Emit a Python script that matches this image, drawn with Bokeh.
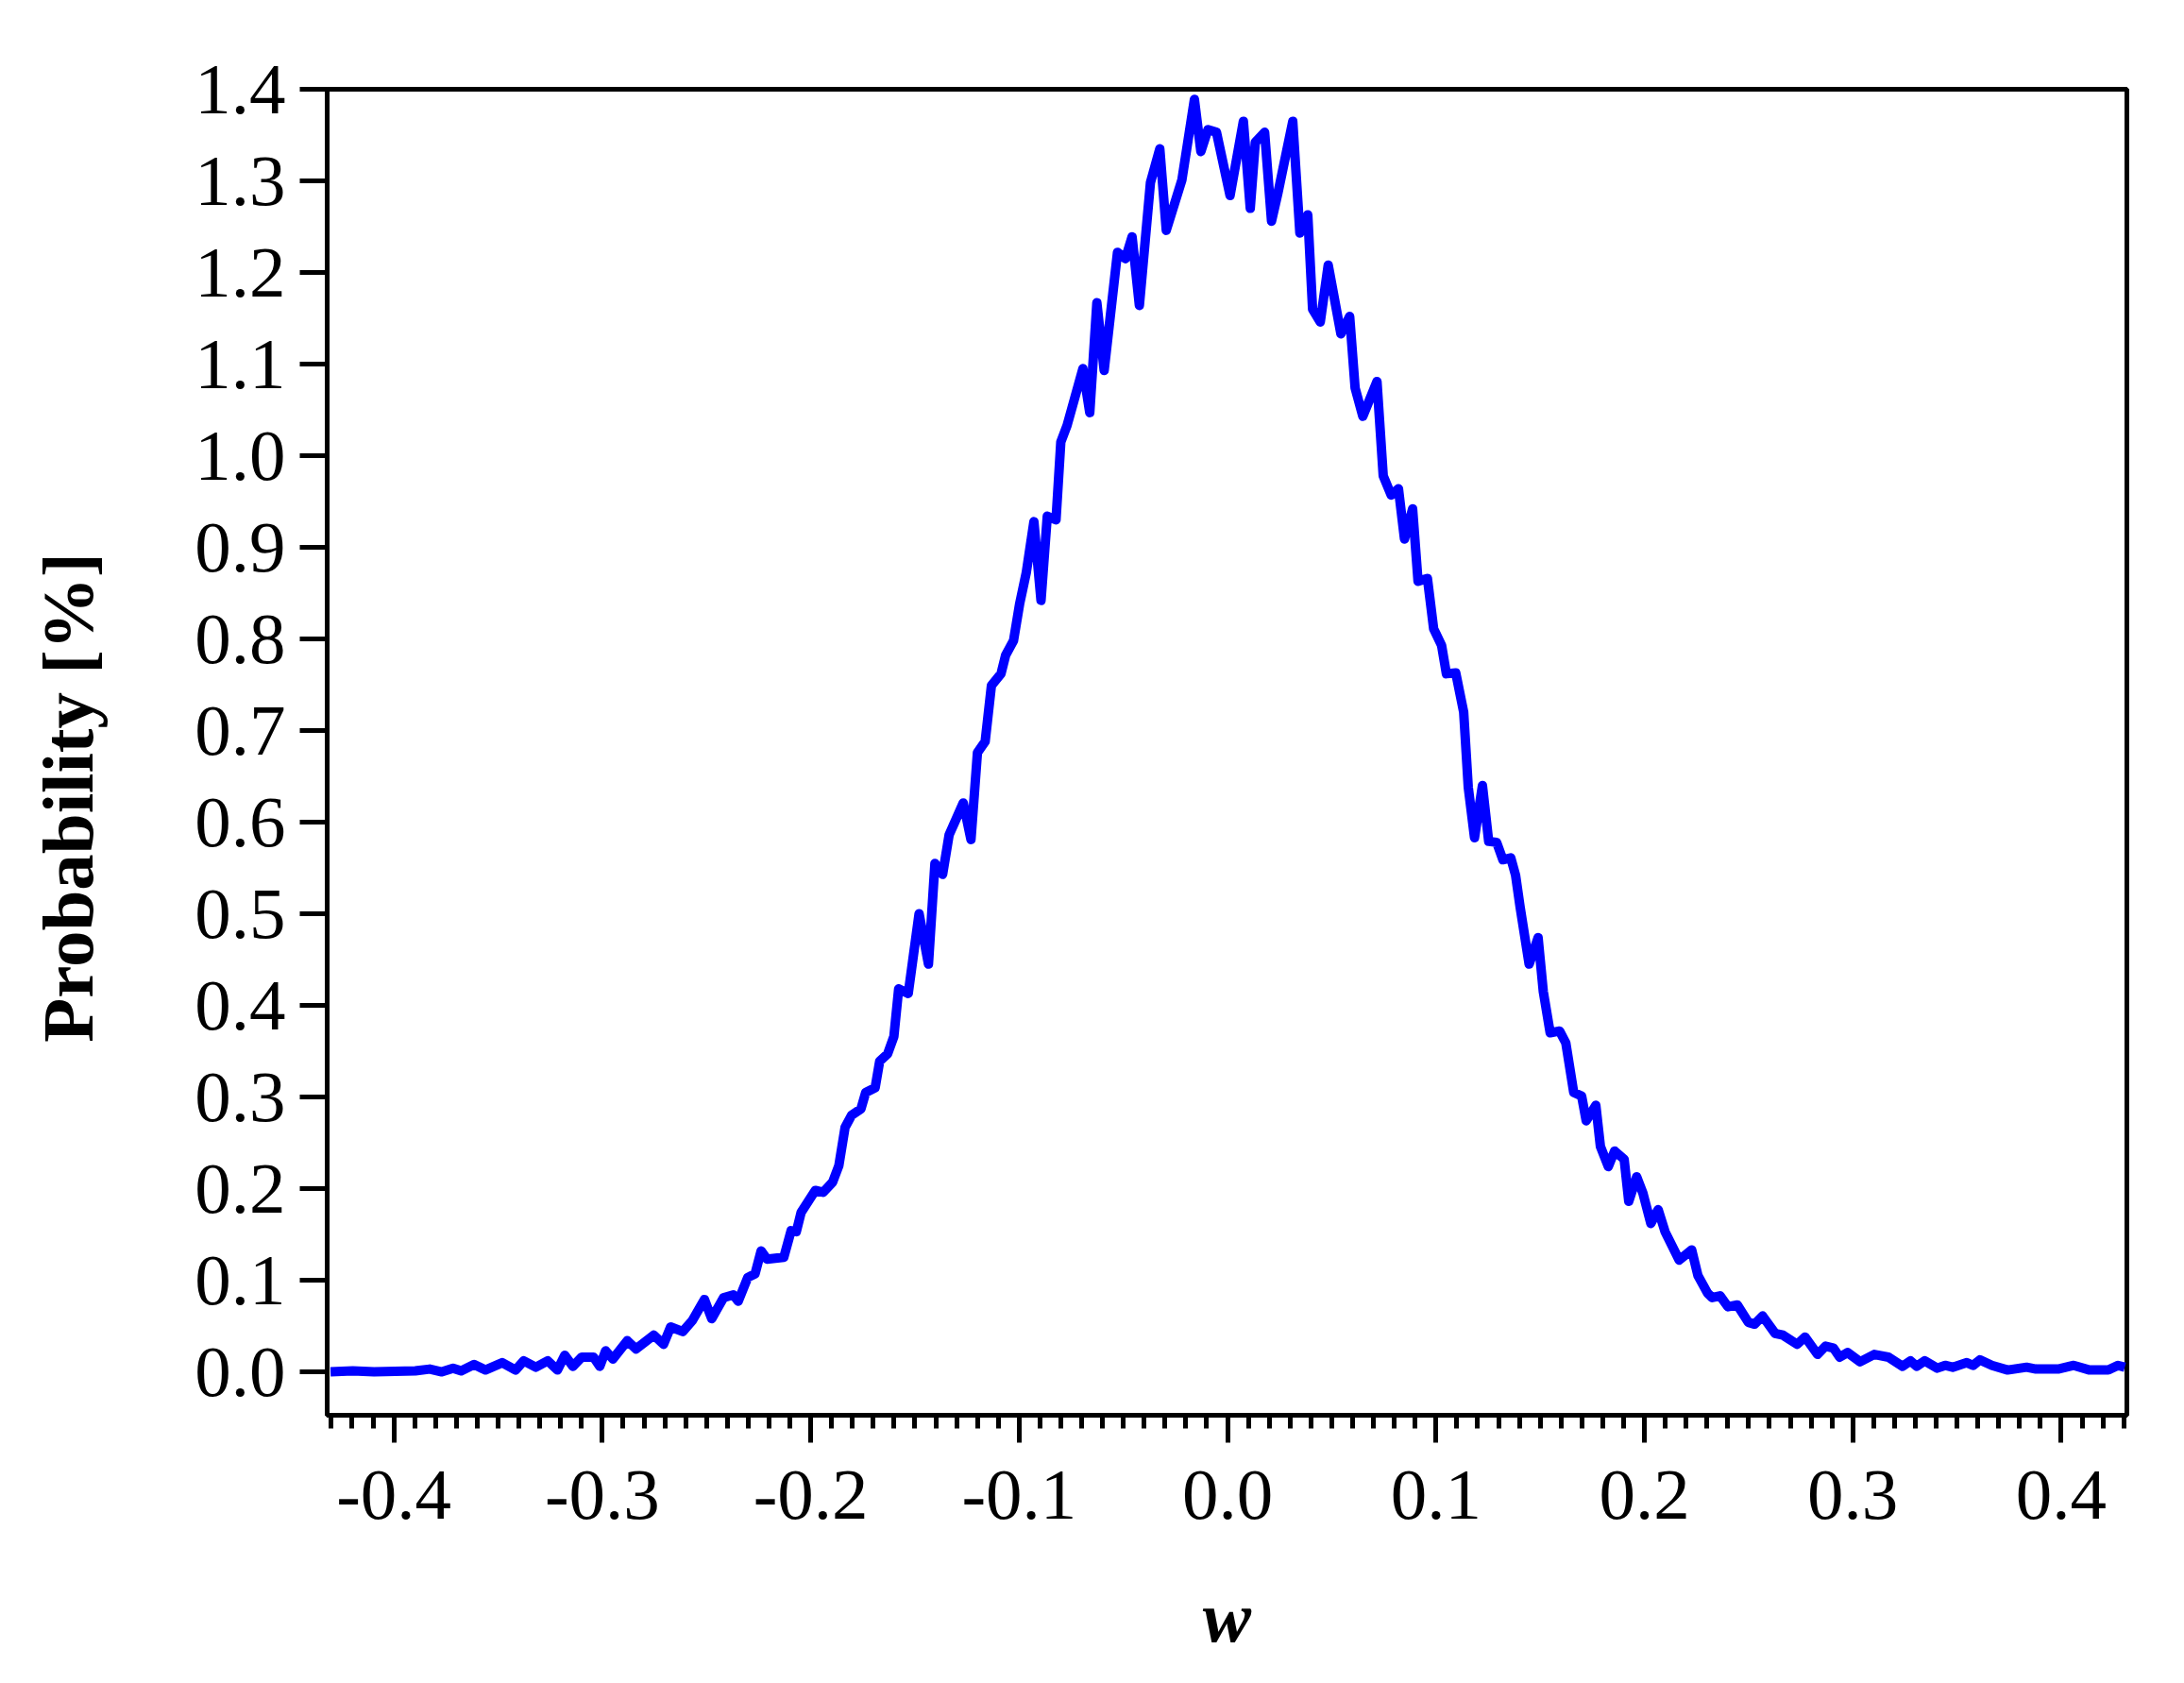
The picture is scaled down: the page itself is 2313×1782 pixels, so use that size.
import numpy as np
from bokeh.plotting import figure
from bokeh.models import Range1d, FixedTicker, NumeralTickFormatter
from bokeh.embed import file_html
from bokeh.resources import INLINE

# ---- data ----
w = [-0.4304, -0.4197, -0.4095, -0.3897, -0.3828, -0.3770, -0.3716, -0.3677, -0.3615, -0.3561,
     -0.3480, -0.3416, -0.3377, -0.3319, -0.3262, -0.3215, -0.3180, -0.3141, -0.3099, -0.3042,
     -0.3012, -0.2984, -0.2949, -0.2880, -0.2838, -0.2753, -0.2706, -0.2672, -0.2614, -0.2568,
     -0.2510, -0.2475, -0.2418, -0.2371, -0.2348, -0.2302, -0.2267, -0.2238, -0.2210, -0.2129,
     -0.2094, -0.2069, -0.2046, -0.1978, -0.1940, -0.1895, -0.1865, -0.1835, -0.1804, -0.1759,
     -0.1736, -0.1691, -0.1669, -0.1631, -0.1601, -0.1578, -0.1532, -0.1480, -0.1435, -0.1404,
     -0.1367, -0.1336, -0.1268, -0.1231, -0.1200, -0.1163, -0.1133, -0.1087, -0.1065, -0.1027,
     -0.0997, -0.0966, -0.0929, -0.0895, -0.0865, -0.0823, -0.0800, -0.0770, -0.0694, -0.0661,
     -0.0627, -0.0592, -0.0528, -0.0490, -0.0458, -0.0423, -0.0370, -0.0325, -0.0294, -0.0219,
     -0.0159, -0.0128, -0.0094, -0.0053, 0.0012, 0.0076, 0.0109, 0.0133, 0.0178, 0.0211,
     0.0242, 0.0313, 0.0347, 0.0385, 0.0408, 0.0445, 0.0483, 0.0544, 0.0586, 0.0612,
     0.0649, 0.0717, 0.0747, 0.0785, 0.0820, 0.0849, 0.0888, 0.0914, 0.0959, 0.0989,
     0.1027, 0.1050, 0.1095, 0.1133, 0.1155, 0.1185, 0.1223, 0.1253, 0.1291, 0.1321,
     0.1359, 0.1382, 0.1404, 0.1447, 0.1490, 0.1515, 0.1548, 0.1593, 0.1623, 0.1661,
     0.1699, 0.1721, 0.1767, 0.1789, 0.1827, 0.1857, 0.1903, 0.1925, 0.1963, 0.1993,
     0.2031, 0.2066, 0.2099, 0.2167, 0.2227, 0.2257, 0.2303, 0.2325, 0.2363, 0.2401,
     0.2446, 0.2499, 0.2529, 0.2567, 0.2627, 0.2665, 0.2733, 0.2771, 0.2831, 0.2869,
     0.2907, 0.2937, 0.2975, 0.3035, 0.3103, 0.3171, 0.3239, 0.3277, 0.3307, 0.3345,
     0.3405, 0.3443, 0.3479, 0.3547, 0.3577, 0.3610, 0.3668, 0.3743, 0.3834, 0.3879,
     0.3985, 0.4060, 0.4136, 0.4226, 0.4272, 0.4305]

prob = [0.000, 0.001, 0.000, 0.001, 0.003, 0.000, 0.004, 0.001, 0.008, 0.002,
        0.010, 0.002, 0.012, 0.005, 0.012, 0.002, 0.018, 0.006, 0.016, 0.016,
        0.006, 0.023, 0.014, 0.034, 0.025, 0.040, 0.030, 0.049, 0.044, 0.056,
        0.079, 0.058, 0.081, 0.084, 0.077, 0.103, 0.107, 0.132, 0.123, 0.125,
        0.154, 0.153, 0.174, 0.198, 0.196, 0.207, 0.225, 0.267, 0.280, 0.287,
        0.305, 0.310, 0.339, 0.347, 0.366, 0.418, 0.413, 0.500, 0.445, 0.555,
        0.543, 0.586, 0.621, 0.581, 0.676, 0.688, 0.749, 0.762, 0.782, 0.798,
        0.839, 0.872, 0.928, 0.842, 0.934, 0.930, 1.015, 1.033, 1.095, 1.047,
        1.167, 1.093, 1.222, 1.215, 1.239, 1.164, 1.298, 1.335, 1.246, 1.301,
        1.389, 1.332, 1.356, 1.353, 1.284, 1.365, 1.270, 1.342, 1.353, 1.256,
        1.287, 1.365, 1.243, 1.263, 1.160, 1.146, 1.208, 1.133, 1.152, 1.074,
        1.043, 1.081, 0.978, 0.957, 0.964, 0.909, 0.942, 0.863, 0.866, 0.811,
        0.793, 0.762, 0.763, 0.720, 0.638, 0.583, 0.640, 0.579, 0.578, 0.559,
        0.561, 0.542, 0.507, 0.445, 0.474, 0.415, 0.370, 0.372, 0.359, 0.305,
        0.301, 0.274, 0.291, 0.246, 0.224, 0.241, 0.232, 0.186, 0.213, 0.195,
        0.162, 0.177, 0.153, 0.122, 0.133, 0.105, 0.086, 0.081, 0.083, 0.071,
        0.073, 0.054, 0.052, 0.061, 0.042, 0.040, 0.030, 0.038, 0.019, 0.028,
        0.026, 0.016, 0.021, 0.011, 0.019, 0.016, 0.006, 0.012, 0.006, 0.012,
        0.004, 0.007, 0.005, 0.010, 0.007, 0.013, 0.007, 0.002, 0.005, 0.003,
        0.003, 0.007, 0.002, 0.002, 0.007, 0.005]

x_major_ticks = [-0.4, -0.3, -0.2, -0.1, 0.0, 0.1, 0.2, 0.3, 0.4]
x_minor_ticks = [round(-0.43 + 0.01 * i, 2) for i in range(87)]
y_major_ticks = [0.0, 0.1, 0.2, 0.3, 0.4, 0.5, 0.6, 0.7, 0.8, 0.9, 1.0, 1.1, 1.2, 1.3, 1.4]

x_title = "w"
y_title = "Probability [%]"

FONT = "Liberation Serif"
FS = "77px"

p = figure(frame_width=1906, frame_height=1404,
           min_border_left=346, min_border_top=94, min_border_right=46, min_border_bottom=266,
           x_range=Range1d(-0.432, 0.4315), y_range=Range1d(-0.0474, 1.4),
           output_backend="svg", toolbar_location=None, tools="")

p.line(w, prob, line_color="#0000FF", line_width=10, line_join="round")

p.xgrid.grid_line_color = None
p.ygrid.grid_line_color = None
p.outline_line_color = "black"
p.outline_line_width = 5
p.background_fill_color = "white"
p.border_fill_color = "white"

for ax in (p.xaxis[0], p.yaxis[0]):
    ax.axis_line_width = 5
    ax.axis_line_color = "black"
    ax.major_tick_line_width = 5
    ax.minor_tick_line_width = 5
    ax.major_tick_in = 0
    ax.minor_tick_in = 0
    ax.major_tick_out = 29
    ax.major_label_text_font = FONT
    ax.major_label_text_font_size = FS
    ax.major_label_text_color = "black"
    ax.axis_label_text_font = FONT
    ax.axis_label_text_font_size = FS
    ax.axis_label_text_color = "black"
    ax.formatter = NumeralTickFormatter(format="0.0")

xa = p.xaxis[0]
xa.ticker = FixedTicker(ticks=x_major_ticks, minor_ticks=x_minor_ticks)
xa.minor_tick_out = 14
xa.major_label_standoff = 30
xa.axis_label = x_title
xa.axis_label_text_font_style = "bold italic"
xa.axis_label_standoff = 58

ya = p.yaxis[0]
ya.ticker = FixedTicker(ticks=y_major_ticks)
ya.minor_tick_line_color = None
ya.major_label_standoff = 15
ya.axis_label = y_title + "\u00a0" * 5
ya.axis_label_text_font_style = "bold"
ya.axis_label_standoff = 88

open("out.html", "w").write(file_html(p, INLINE))
